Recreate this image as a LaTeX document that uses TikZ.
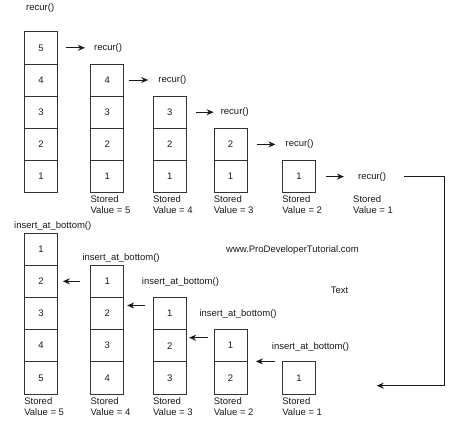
\documentclass[tikz,border=0pt]{standalone}
\usepackage{fontspec}
\setmainfont{Liberation Sans}
\usetikzlibrary{arrows.meta, positioning}
\definecolor{ink}{HTML}{1A1A1A}
\definecolor{edge}{HTML}{333333}
\tikzset{
  cell/.style={draw=edge, line width=0.8pt, minimum width=33pt, minimum height=32.2pt,
               inner sep=0pt, font=\fontsize{9.5}{11}\selectfont, text=ink},
  lbl/.style={inner sep=0pt, anchor=west, font=\fontsize{9.5}{11}\selectfont, text=ink},
  note/.style={inner sep=0pt, anchor=north west, align=left,
               font=\fontsize{9.5}{11}\selectfont, text=ink},
  fl/.style={-{Stealth[length=7pt, width=6pt]}, line width=0.8pt, draw=ink},
}
\begin{document}
\begin{tikzpicture}[x=1pt, y=-1pt]
  \useasboundingbox (0,0) rectangle (474,432);
  \foreach \k/\x in {1/41, 2/107.3, 3/169.7, 4/230.5, 5/299} {
    \pgfmathtruncatemacro{\n}{6-\k}
    \foreach \v in {1,...,\n}
      \node[cell] (t\k-\v) at (\x, {176.6-32.2*(\v-1)}) {\v};
    \foreach \v in {1,...,\n}
      \node[cell] (b\k-\v) at (\x, {394-32.2*(\n-\v+0.5)}) {\v};
  }
  \node[lbl] (r1) at (26,8) {recur()};
  \node[lbl, right=36pt of t1-5] (r2) {recur()};
  \node[lbl, right=34pt of t2-4] (r3) {recur()};
  \node[lbl, right=34pt of t3-3] (r4) {recur()};
  \node[lbl, right=38pt of t4-2] (r5) {recur()};
  \node[lbl, right=42pt of t5-1] (r6) {recur()};
  \draw[fl, shorten <=8pt, shorten >=9pt] (t1-5) -- (r2);
  \draw[fl, shorten <=5pt, shorten >=10pt] (t2-4) -- (r3);
  \draw[fl, shorten <=9pt, shorten >=7pt] (t3-3) -- (r4);
  \draw[fl, shorten <=10pt, shorten >=10pt] (t4-2) -- (r5);
  \draw[fl, shorten <=10pt, shorten >=14pt] (t5-1) -- (r6);
  \foreach \k/\s in {2/5, 3/4, 4/3, 5/2}
    \node[note, below right=2.8pt and 0pt of t\k-1.south west] (st\k) {Stored\\Value = \s};
  \node[note] (st6) at (353,195.5) {Stored\\Value = 1};

  \node[lbl] (i1) at (14,225.7) {insert\_at\_bottom()};
  \node[lbl] (i2) at (82.3,258.3) {insert\_at\_bottom()};
  \node[lbl] (i3) at (141.7,282.3) {insert\_at\_bottom()};
  \node[lbl] (i4) at (199.3,314.3) {insert\_at\_bottom()};
  \node[lbl] (i5) at (271.7,346.7) {insert\_at\_bottom()};
  \draw[fl, shorten <=10pt, shorten >=5pt] (b2-1.west) -- (b1-2.east);
  \draw[fl, shorten <=7.5pt, shorten >=3pt] ([yshift=8pt]b3-1.west) -- ([yshift=8pt]b2-2.east);
  \draw[fl, shorten <=6pt, shorten >=2.5pt] ([yshift=8pt]b4-1.west) -- ([yshift=8pt]b3-2.east);
  \draw[fl, shorten <=7.5pt, shorten >=8.5pt] (b5-1.north west) -- (b4-2.north east);
  \foreach \k/\s in {1/5, 2/4, 3/3, 4/2, 5/1}
    \node[note, below right=3.5pt and 0pt of b\k-\s.south west] (sb\k) {Stored\\Value = \s};

  \node[lbl] (web) at (226,250) {www.ProDeveloperTutorial.com};
  \node[lbl] (txt) at (330.7,290.7) {Text};
  \coordinate (ret) at (376.7,385.7);
  \coordinate (turn) at (444.3,385.7);
  \draw[fl, shorten <=18pt] (r6.east) -| (turn) -- (ret);
\end{tikzpicture}
\end{document}
